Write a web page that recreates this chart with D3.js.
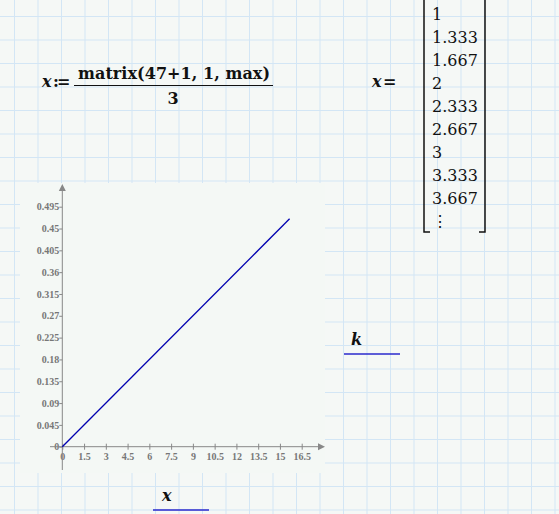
<!DOCTYPE html>
<html><head><meta charset="utf-8">
<script src="https://cdn.jsdelivr.net/npm/d3@7"></script>
<style>body{margin:0;background:#f5f8f6;}svg{display:block}</style>
</head><body>
<svg id="chart" width="559" height="514"></svg>
<script>
// values read from the sheet
const xVals = [0, 47 / 3];
const kVals = [0, 0.47];
const xTicks = [0, 1.5, 3, 4.5, 6, 7.5, 9, 10.5, 12, 13.5, 15, 16.5];
const yTicks = [0, 0.045, 0.09, 0.135, 0.18, 0.225, 0.27, 0.315, 0.36, 0.405, 0.45, 0.495];
const matrixShown = ["1", "1.333", "1.667", "2", "2.333", "2.667", "3", "3.333", "3.667", "⋮"];

const svg = d3.select("#chart");
const serif = "'Liberation Serif','DejaVu Serif',serif";
const wide = "'DejaVu Serif',serif";

// sheet grid
const grid = svg.append("g").attr("stroke", "#d3e6f5").attr("stroke-width", 1);
d3.range(14.5, 559, 23.5).forEach(x => grid.append("line").attr("x1", x).attr("x2", x).attr("y1", 0).attr("y2", 514));
d3.range(16.5, 514, 23.5).forEach(y => grid.append("line").attr("y1", y).attr("y2", y).attr("x1", 0).attr("x2", 559));

// formula
const f = svg.append("g").attr("font-family", wide).attr("font-size", 16).attr("fill", "#111").attr("font-weight", "bold");
f.append("text").attr("x", 42).attr("y", 87).attr("font-style", "italic").text("x");
f.append("text").attr("x", 53).attr("y", 87).attr("letter-spacing", -2).text(":=");
f.append("text").attr("x", 78).attr("y", 79).attr("textLength", 192).attr("lengthAdjust", "spacing").text("matrix(47+1, 1, max)");
f.append("line").attr("x1", 74).attr("x2", 273).attr("y1", 85.5).attr("y2", 85.5).attr("stroke", "#111").attr("stroke-width", 1.2);
f.append("text").attr("x", 173).attr("y", 104).attr("text-anchor", "middle").text("3");
f.append("text").attr("x", 372).attr("y", 87).attr("font-style", "italic").text("x");
f.append("text").attr("x", 383).attr("y", 87).text("=");

// matrix
const m = svg.append("g");
m.append("path").attr("d", "M424,0V232H430").attr("fill", "none").attr("stroke", "#111").attr("stroke-width", 1.5);
m.append("path").attr("d", "M485,0V232H479").attr("fill", "none").attr("stroke", "#111").attr("stroke-width", 1.5);
m.selectAll("text").data(matrixShown).join("text")
  .attr("x", 432).attr("y", (d, i) => 20 + i * 23)
  .attr("font-family", wide).attr("font-size", 16).attr("fill", "#111").text(d => d);

// plot region
svg.append("rect").attr("x", 20).attr("y", 183).attr("width", 305).attr("height", 290).attr("fill", "#f4f8f5");

const x = d3.scaleLinear().domain([0, 16.5]).range([62.3, 301.7]);
const y = d3.scaleLinear().domain([0, 0.495]).range([446.7, 206.7]);

const axisStyle = g => {
  g.select(".domain").remove();
  g.selectAll("line").attr("stroke", "#888");
  g.selectAll("text").attr("font-family", serif).attr("font-weight", "bold").attr("font-size", 10).attr("fill", "#777");
};
svg.append("g").attr("transform", `translate(0,${y(0)})`)
  .call(d3.axisBottom(x).tickValues(xTicks).tickSize(3).tickFormat(d3.format("")))
  .call(axisStyle).call(g => g.selectAll(".tick line").attr("y1", -3));
svg.append("g").attr("transform", `translate(${x(0)},0)`)
  .call(d3.axisLeft(y).tickValues(yTicks).tickSize(3).tickFormat(d3.format("")))
  .call(axisStyle).call(g => g.selectAll("text").attr("x", -3)).call(g => g.selectAll(".tick line").attr("x1", -3).attr("x2", 0));

svg.append("line").attr("x1", 50).attr("x2", 318).attr("y1", y(0)).attr("y2", y(0)).attr("stroke", "#888");
svg.append("line").attr("x1", x(0)).attr("x2", x(0)).attr("y1", 190).attr("y2", 470).attr("stroke", "#888");
svg.append("path").attr("d", `M318,${y(0) - 3.5}l7,3.5l-7,3.5z`).attr("fill", "#888");
svg.append("path").attr("d", `M${x(0) - 3.5},191l3.5,-7l3.5,7z`).attr("fill", "#888");

svg.append("path").datum(d3.zip(xVals, kVals))
  .attr("d", d3.line().x(d => x(d[0])).y(d => y(d[1])))
  .attr("stroke", "#0000b0").attr("stroke-width", 1.3).attr("fill", "none");

// axis labels
const lab = (tx, ty, lx1, lx2, ly, s) => {
  svg.append("text").attr("x", tx).attr("y", ty).attr("font-family", wide).attr("font-size", 16)
    .attr("font-style", "italic").attr("font-weight", "bold").attr("fill", "#111").text(s);
  svg.append("line").attr("x1", lx1).attr("x2", lx2).attr("y1", ly).attr("y2", ly).attr("stroke", "#2a2acc").attr("stroke-width", 1.5);
};
lab(351, 345, 344, 400, 354, "k");
lab(162, 501, 153, 209, 510, "x");
</script>
</body></html>
